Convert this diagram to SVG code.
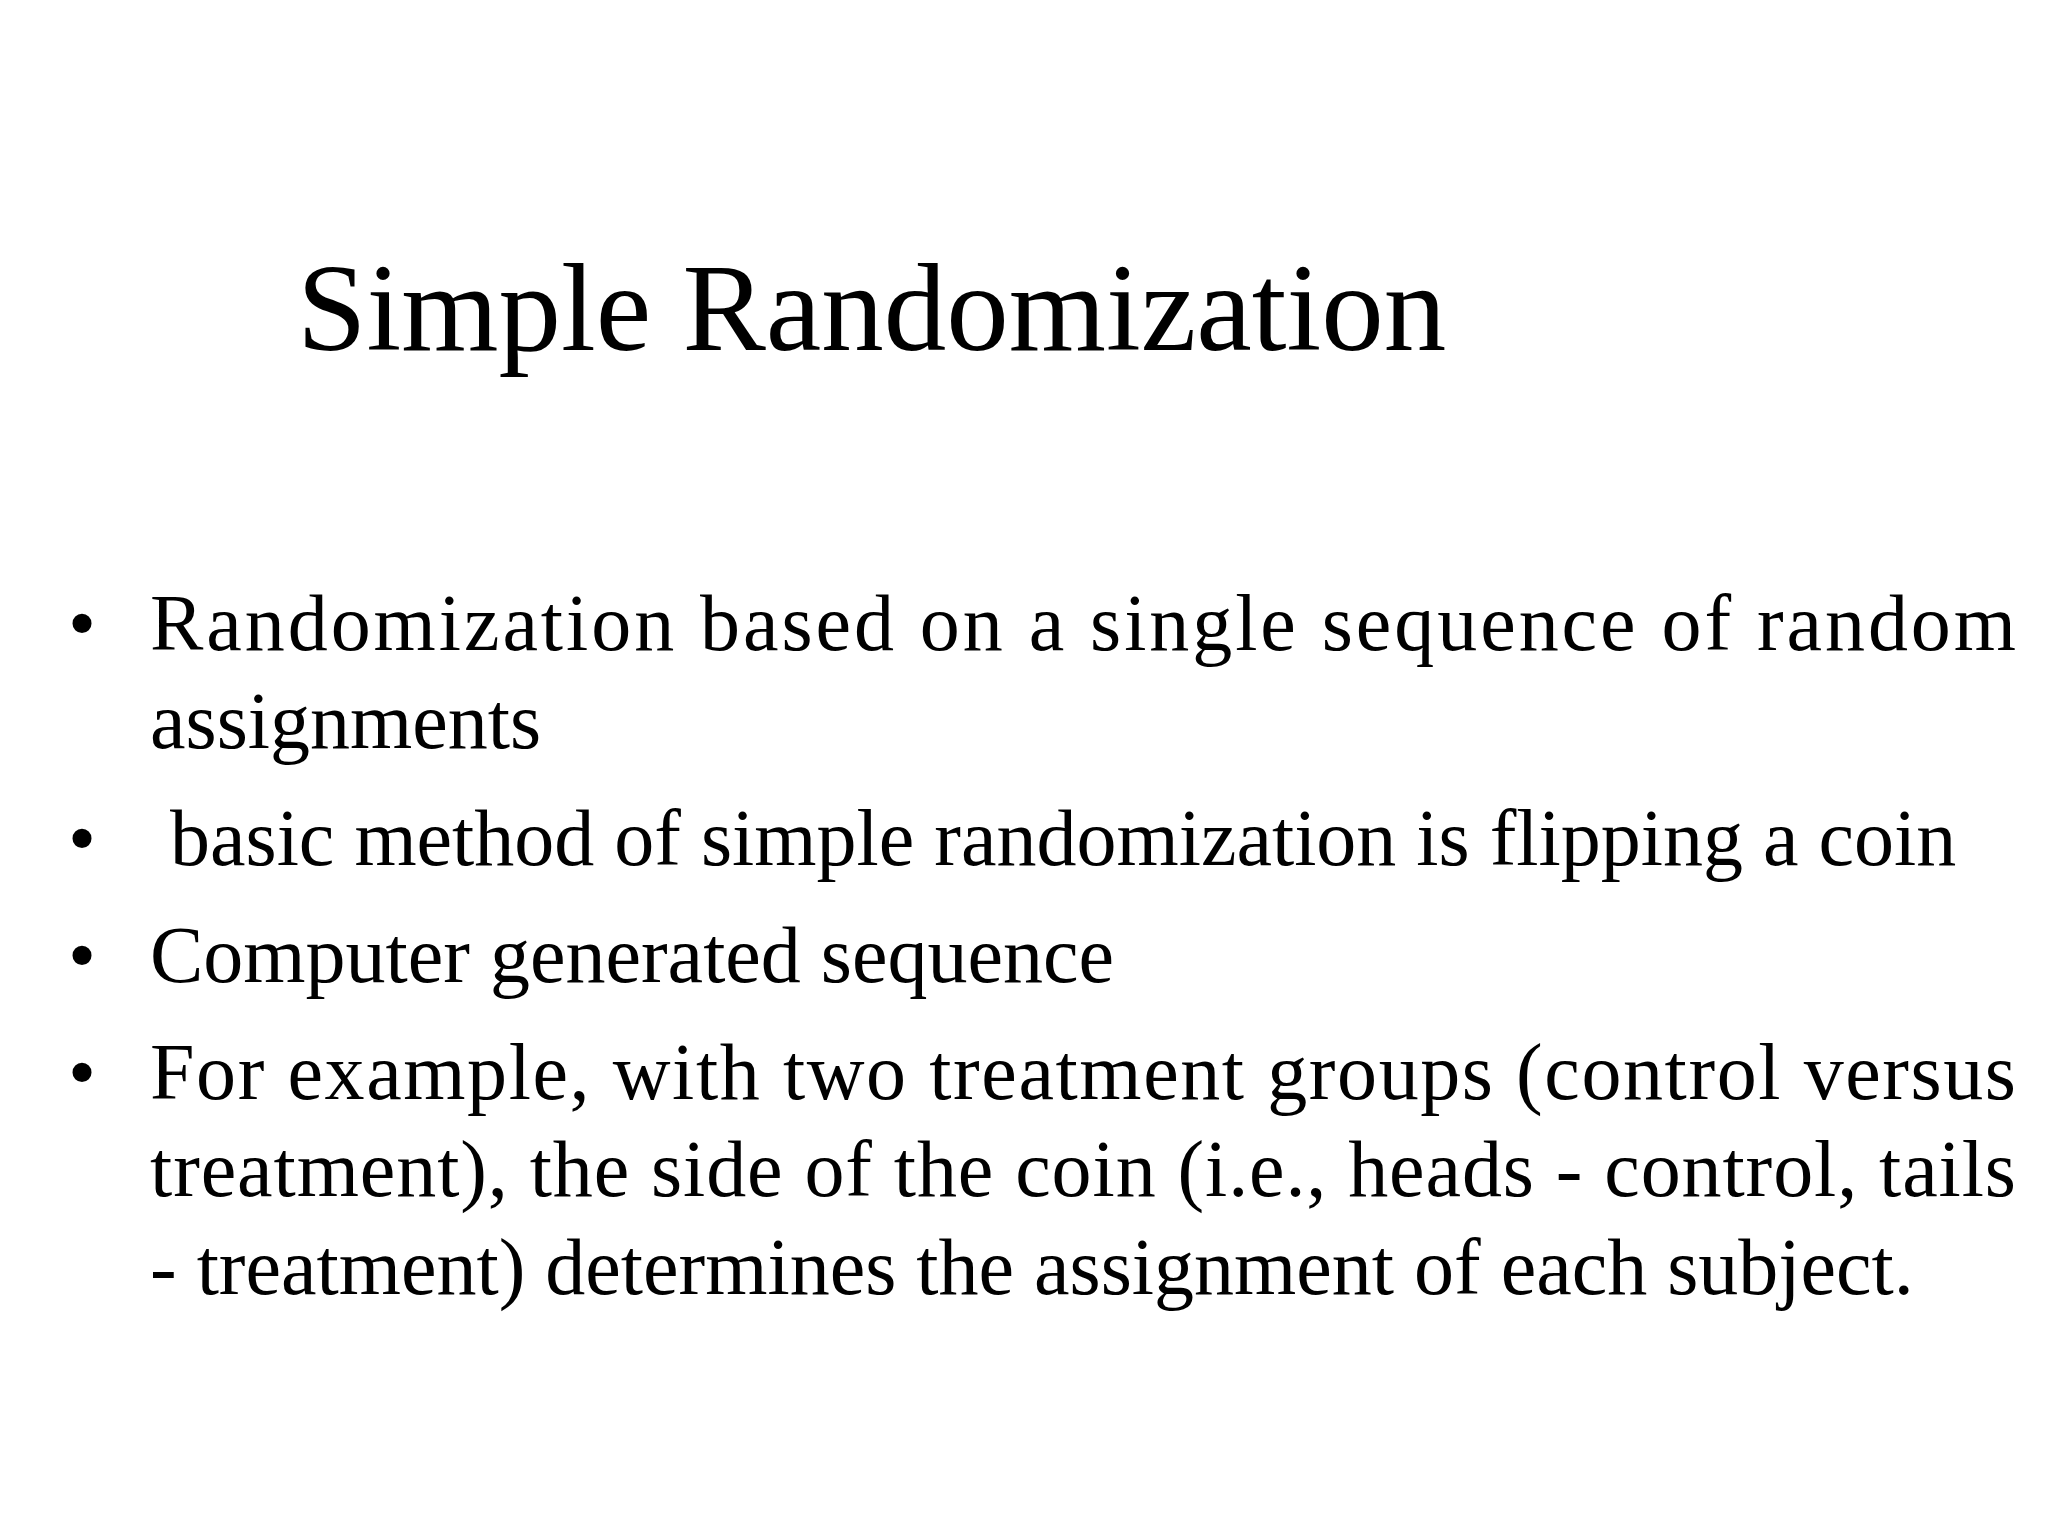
<svg xmlns="http://www.w3.org/2000/svg" width="2048" height="1536" viewBox="0 0 2048 1536">
<style>
text{font-family:"Liberation Serif","Times New Roman",serif;fill:#000}
.b{font-size:80px}
</style>
<rect width="2048" height="1536" fill="#fff"/>
<text x="297" y="350" font-size="125">Simple Randomization</text>
<g class="b">
<text x="68" y="650">•</text>
<text x="150" y="650" textLength="1866" lengthAdjust="spacing">Randomization based on a single sequence of random</text>
<text x="150" y="748">assignments</text>
<text x="68" y="865">•</text>
<text x="170" y="865">basic method of simple randomization is flipping a coin</text>
<text x="68" y="982">•</text>
<text x="150" y="982">Computer generated sequence</text>
<text x="68" y="1099">•</text>
<text x="150" y="1099" textLength="1866" lengthAdjust="spacing">For example, with two treatment groups (control versus</text>
<text x="150" y="1196" textLength="1866" lengthAdjust="spacing">treatment), the side of the coin (i.e., heads - control, tails</text>
<text x="150" y="1294">- treatment) determines the assignment of each subject.</text>
</g>
</svg>
